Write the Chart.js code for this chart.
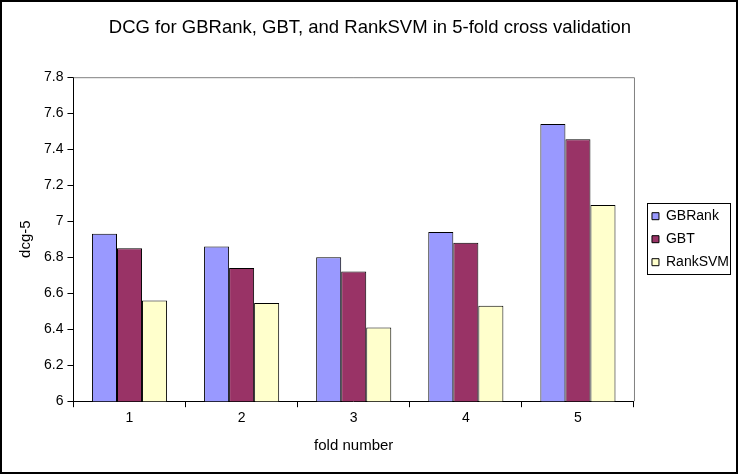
<!DOCTYPE html>
<html>
<head>
<meta charset="utf-8">
<script src="https://cdn.jsdelivr.net/npm/chart.js@4"></script>
<style>
  html, body { margin: 0; padding: 0; background: #fff; }
  #wrap { width: 738px; height: 474px; }
</style>
</head>
<body>
<div id="wrap"><canvas id="dcgChart" width="738" height="474"></canvas></div>
<script>
const folds = ['1', '2', '3', '4', '5'];
const gbrank = [6.93, 6.86, 6.80, 6.94, 7.54];
const gbt = [6.85, 6.74, 6.72, 6.88, 7.455];
const ranksvm = [6.56, 6.545, 6.41, 6.53, 7.09];
const yMin = 6, yMax = 7.8, yStep = 0.2;

const FONT = 'Liberation Sans, Arial, sans-serif';

// frame around the whole picture + plot area + legend box
const framePlugin = {
  id: 'frames',
  afterLayout(chart) {
    // leave a gap between the plot area and the legend, like Excel
    chart.legend.left += 9;
    chart.legend.right += 9;
  },
  afterDraw(chart) {
    const ctx = chart.ctx;
    const a = chart.chartArea;
    ctx.save();
    ctx.strokeStyle = '#808080';
    ctx.lineWidth = 1;
    ctx.beginPath();
    ctx.moveTo(a.left, a.top + 0.5);
    ctx.lineTo(a.right + 0.5, a.top + 0.5);
    ctx.lineTo(a.right + 0.5, a.bottom);
    ctx.stroke();

    // box round the legend items only
    const boxes = chart.legend.legendHitBoxes || [];
    if (boxes.length) {
      const l = Math.min(...boxes.map(b => b.left)) - 5;
      const t = Math.min(...boxes.map(b => b.top)) - 6;
      const r = Math.max(...boxes.map(b => b.left + b.width)) + 1;
      const bt = Math.max(...boxes.map(b => b.top + b.height)) + 5;
      ctx.strokeStyle = '#000';
      ctx.strokeRect(Math.round(l) + 0.5, Math.round(t) + 0.5, Math.round(r - l), Math.round(bt - t));
    }

    ctx.strokeStyle = '#000';
    ctx.lineWidth = 2;
    ctx.strokeRect(1, 1, chart.width - 2, chart.height - 2);
    ctx.restore();
  }
};

const bar = (label, data, color) => ({
  label, data, backgroundColor: color, borderColor: '#000', borderWidth: 1,
  barPercentage: 1, categoryPercentage: 0.67
});

new Chart(document.getElementById('dcgChart').getContext('2d'), {
  type: 'bar',
  data: {
    labels: folds,
    datasets: [
      bar('GBRank', gbrank, '#9999FF'),
      bar('GBT', gbt, '#993366'),
      bar('RankSVM', ranksvm, '#FFFFCC')
    ]
  },
  options: {
    responsive: false,
    animation: false,
    layout: { padding: { left: 10, right: 8, top: 0, bottom: 15 } },
    plugins: {
      title: {
        display: true,
        text: 'DCG for GBRank, GBT, and RankSVM in 5-fold cross validation',
        color: '#000',
        font: { family: FONT, size: 18.5, weight: 'normal' },
        padding: { top: 17, bottom: 38 }
      },
      legend: {
        position: 'right',
        fullSize: false,
        labels: {
          color: '#000',
          font: { family: FONT, size: 14 },
          boxWidth: 7, boxHeight: 7, padding: 9
        }
      },
      tooltip: { enabled: false }
    },
    scales: {
      x: {
        grid: { display: true, offset: true, drawOnChartArea: false, drawTicks: true, tickLength: 6, color: '#000' },
        border: { color: '#000', width: 1 },
        ticks: { color: '#000', font: { family: FONT, size: 14 }, padding: 3 },
        title: { display: true, text: 'fold number', color: '#000', font: { family: FONT, size: 15 }, padding: { top: 7 } }
      },
      y: {
        min: yMin, max: yMax,
        grid: { display: true, drawOnChartArea: false, drawTicks: true, tickLength: 6, color: '#000' },
        border: { color: '#000', width: 1 },
        ticks: {
          stepSize: yStep, color: '#000', font: { family: FONT, size: 14 }, padding: 4,
          callback: v => String(Number(v.toFixed(1)))
        },
        title: { display: true, text: 'dcg-5', color: '#000', font: { family: FONT, size: 15 }, padding: { top: 7, bottom: 5 } }
      }
    }
  },
  plugins: [framePlugin]
});
</script>
</body>
</html>
